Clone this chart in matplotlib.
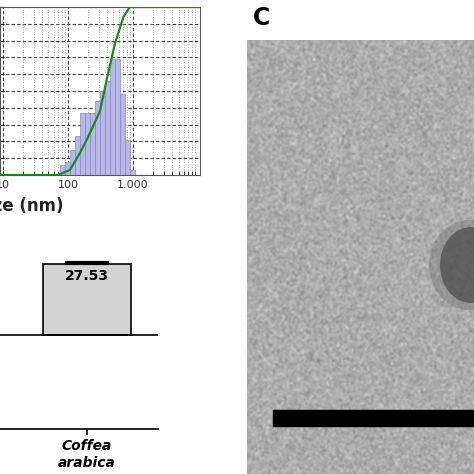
import numpy as np
import matplotlib.pyplot as plt
from matplotlib.patches import Ellipse

# histogram (size distribution)
bin_edges = 10 ** (1.877 + 0.077 * np.arange(16))
bin_heights = [6, 8, 15, 23, 37, 37, 37, 44, 50, 56, 69, 69, 48, 21, 3]
cum_x = [9, 70, 107, 152, 200, 310, 400, 525, 710, 890, 1000, 11000]
cum_y = [0, 0, 3, 13, 22, 38, 58, 78, 94, 100, 100, 100]

# bar chart
bar_labels = ["Coffea\narabica"]
bar_values = [27.53]
bar_errors = [0.6]

W = H = 474
fig = plt.figure(figsize=(4.74, 4.74), dpi=100)


def px_axes(x0, y0, x1, y1):
    return fig.add_axes([x0 / W, 1 - y1 / H, (x1 - x0) / W, (y1 - y0) / H])


# --- panel B: histogram
ax = px_axes(0, 7, 200, 175)
ax.bar(bin_edges[:-1], bin_heights, width=np.diff(bin_edges), align="edge",
       color="#b8b8e8", edgecolor="#8888c8", linewidth=0.5, zorder=2)
ax.plot(cum_x, cum_y, color="#1a8a1a", linewidth=1.6, zorder=3)
ax.set_xscale("log")
ax.set_xlim(9, 10700)
ax.set_ylim(0, 100)
ax.set_yticks(np.arange(0, 101, 10))
ax.set_yticklabels([])
ax.set_xticks([10, 100, 1000])
ax.set_xticklabels(["10", "100", "1.000"], fontsize=8, color="#333333")
ax.grid(True, which="major", axis="both", linestyle=(0, (3, 2)), color="#444444", linewidth=0.8)
ax.grid(True, which="minor", axis="x", linestyle=(0, (1, 2)), color="#999999", linewidth=0.6)
ax.tick_params(axis="y", length=3, direction="in")
ax.tick_params(axis="x", which="both", direction="in", length=3)
for s in ax.spines.values():
    s.set_color("#555555")
# axis title is cut by the left border of the crop
fig.text(64 / W, 1 - 206 / H, "Size (nm)", ha="right", va="center",
         fontsize=12, fontweight="bold", color="#222222")

# --- panel: bar chart
bx = px_axes(0, 230, 158, 429)
x = np.arange(len(bar_values))
bx.bar(x, bar_values, width=1.0, color="#d3d3d3", edgecolor="black", linewidth=1.2)
for xi, v, e in zip(x, bar_values, bar_errors):
    bx.plot([xi - 0.25, xi + 0.25], [v + 0.5, v + 0.5], color="black", lw=3, solid_capstyle="butt")
    bx.text(xi, v - 2, f"{v:.2f}", ha="center", va="top", fontsize=10, fontweight="bold")
bx.axhline(0, color="black", lw=1.2)
bx.set_xlim(-87 / 88, 71 / 88)
bx.set_ylim(-37, 41)
bx.set_xticks(x)
bx.set_xticklabels(bar_labels, fontsize=10, fontweight="bold", style="italic")
bx.set_yticks([])
for s in ["top", "right", "left"]:
    bx.spines[s].set_visible(False)
bx.spines["bottom"].set_linewidth(1.2)
bx.tick_params(axis="x", length=4, width=1.2)

# --- panel C: TEM micrograph
fig.text(262 / W, 1 - 18 / H, "C", ha="center", va="center", fontsize=17, fontweight="bold")
cx = px_axes(247, 40, 474, 474)
rng = np.random.default_rng(3)
tex = rng.normal(0, 1, (300, 160))
k = np.ones(2) / 2
tex = np.apply_along_axis(lambda r: np.convolve(r, k, mode="same"), 1, tex)
tex = np.apply_along_axis(lambda c: np.convolve(c, k, mode="same"), 0, tex)
cx.imshow(172 + 20 * tex, cmap="gray", vmin=0, vmax=255, extent=(0, 227, 434, 0),
          interpolation="bilinear", aspect="auto")
cx.add_patch(Ellipse((222, 225), 80, 90, color="#6a6a6a", alpha=0.35, lw=0))
cx.add_patch(Ellipse((224, 225), 62, 76, color="#4a4a4a", alpha=0.7, lw=0))
cx.add_patch(plt.Rectangle((26, 370), 201, 16, color="black"))
cx.set_xlim(0, 227)
cx.set_ylim(434, 0)
cx.axis("off")

fig.savefig("out.png", dpi=100)
